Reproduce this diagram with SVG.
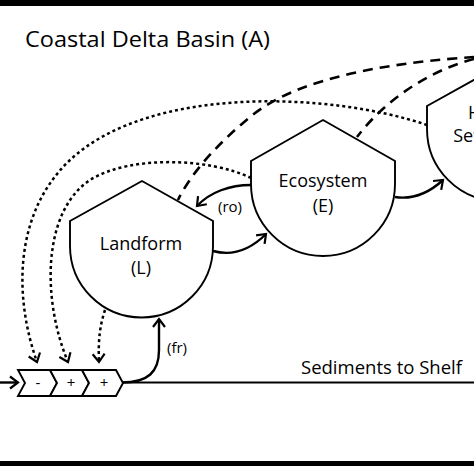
<svg xmlns="http://www.w3.org/2000/svg" width="474" height="474" viewBox="0 0 474 474">
<defs>
<style>
.node{fill:#fff;stroke:#000;stroke-width:1.9;stroke-linejoin:miter}
.lbl{font-family:"Open Sans","Liberation Sans",sans-serif;font-size:18px;fill:#000;text-anchor:middle}
.small{font-family:"Open Sans","Liberation Sans",sans-serif;font-size:15px;fill:#000}
.flow{fill:none;stroke:#000;stroke-width:2.4}
.dot{fill:none;stroke:#000;stroke-width:2.5;stroke-dasharray:3 3}
.dash{fill:none;stroke:#000;stroke-width:2.6;stroke-dasharray:10 7}
.chev{fill:#fff;stroke:#000;stroke-width:1.9}
</style>
<marker id="arr" markerUnits="userSpaceOnUse" markerWidth="16" markerHeight="16" viewBox="0 0 16 16" refX="10" refY="8" orient="auto">
<path d="M2,2 L10,8 L2,14" fill="none" stroke="#000" stroke-width="2.2" stroke-dasharray="none"/>
</marker>
</defs>
<rect x="0" y="0" width="474" height="474" fill="#fff"/>
<rect x="0" y="0" width="474" height="6" fill="#000"/>
<rect x="0" y="461" width="474" height="5" fill="#000"/>
<text x="25" y="47" textLength="245" lengthAdjust="spacingAndGlyphs" style="font-family:'Open Sans','Liberation Sans',sans-serif;font-size:22px;fill:#000">Coastal Delta Basin (A)</text>

<g id="connectors">
<path class="dot" d="M427,125 C330,92 150,85 70,160 C12,215 15,300 37,362" marker-end="url(#arr)"/>
<path class="dot" d="M251,178 C210,158 130,155 90,180 C42,212 42,300 68,362" marker-end="url(#arr)"/>
<path class="dot" d="M105,310 C100,325 98,340 99,362" marker-end="url(#arr)"/>
<path class="dash" d="M474,57 C400,62 300,75 250,117 C215,146 190,175 178,200"/>
<path class="dash" d="M474,59 C430,70 385,100 357,137"/>
<path class="flow" d="M213,251 C235,257 252,248 266,234" marker-end="url(#arr)"/>
<path class="flow" d="M251,185 C230,185 210,192 197,206" marker-end="url(#arr)"/>
<path class="flow" d="M395,197 C415,200 430,192 443,180" marker-end="url(#arr)"/>
<path class="flow" d="M122,382.5 C148,382.5 159,372 159,350 L159,319" marker-end="url(#arr)"/>
<path class="flow" d="M0,382.5 L18,382.5" marker-end="url(#arr)"/>
<path d="M122,382.5 L474,382.5" fill="none" stroke="#000" stroke-width="1.9"/>
<text class="small" x="218" y="212">(ro)</text>
<text class="small" x="167" y="353">(fr)</text>
<text x="301" y="374" textLength="161" lengthAdjust="spacingAndGlyphs" style="font-family:'Open Sans','Liberation Sans',sans-serif;font-size:18.5px;fill:#000">Sediments to Shelf</text>
</g>

<g id="landform">
<path class="node" d="M70,221 L142,181 L213,221 L213,246 A71.5,71.5 0 0 1 70,246 Z"/>
<text class="lbl" x="141" y="250">Landform</text>
<text class="lbl" x="141" y="274">(L)</text>
</g>

<g id="ecosystem">
<path class="node" d="M251,161 L323,120 L395,161 L395,184 A72,72 0 0 1 251,184 Z"/>
<text class="lbl" x="323" y="187">Ecosystem</text>
<text class="lbl" x="323" y="212">(E)</text>
</g>

<g id="human-settlement">
<path class="node" d="M427,106 L499,66 L571,106 L571,129 A72,72 0 0 1 427,129 Z"/>
<text class="lbl" x="499" y="119">Human</text>
<text class="lbl" x="499" y="142">Settlement</text>
</g>

<g id="chevrons">
<path class="chev" d="M18,370 L50,370 L57,383 L50,396 L18,396 L25,383 Z"/>
<path class="chev" d="M50,370 L82,370 L89,383 L82,396 L50,396 L57,383 Z"/>
<path class="chev" d="M82,370 L116,370 L123,383 L116,396 L82,396 L89,383 Z"/>
<text class="small" x="38" y="388" text-anchor="middle">-</text>
<text class="small" x="71" y="388" text-anchor="middle">+</text>
<text class="small" x="104" y="388" text-anchor="middle">+</text>
</g>
</svg>
